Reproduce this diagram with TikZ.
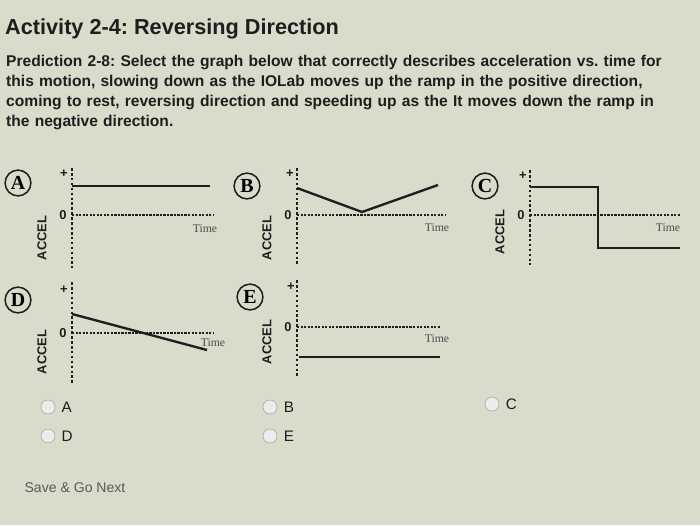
\documentclass[tikz,border=0pt]{standalone}
\usepackage{fontspec}
\setmainfont{Liberation Sans}
\newfontfamily\serifface{Liberation Serif}
\usetikzlibrary{positioning}
\definecolor{screen}{HTML}{D9DCCB}
\definecolor{ink}{HTML}{1E1E1E}
\frenchspacing

\begin{document}
\begin{tikzpicture}[x=0.03cm, y=-0.03cm]
    \tikzstyle{axis} = [ink, line width=2.2pt, dotted]
    \tikzstyle{zeroline} = [ink, line width=2pt, densely dotted]
    \tikzstyle{curve} = [ink, line width=2pt]
    \tikzstyle{badge} = [circle, draw=ink, line width=1.3pt, inner sep=0.5pt, minimum size=22pt, font=\serifface\bfseries\fontsize{17}{17}\selectfont]
    \tikzstyle{accel} = [rotate=90, font=\bfseries\fontsize{11}{11}\selectfont, text=ink]
    \tikzstyle{timelabel} = [font=\serifface\fontsize{10}{10}\selectfont, text=ink!80]
    \tikzstyle{tick} = [font=\bfseries\fontsize{11}{11}\selectfont, text=ink]
    \tikzstyle{radio} = [circle, draw=gray!80, fill=gray!15, minimum size=12pt, inner sep=0pt]
    \tikzstyle{choice} = [font=\fontsize{13}{13}\selectfont, text=ink]

    \fill[screen] (0,0) rectangle (700,525);
    \useasboundingbox (0,0) rectangle (700,525);

    \node (title) [anchor=west, font=\bfseries\fontsize{18.5}{18.5}\selectfont, text=ink, inner sep=0pt] at (5,29) {Activity 2-4: Reversing Direction};
    \node (prompt) [anchor=north west, align=left, font=\bfseries\fontsize{13.3}{17.2}\selectfont, text=ink, text width=22cm, inner sep=0pt] at (6,55)
        {Prediction 2-8: Select the graph below that correctly describes acceleration vs. time for\\
         this motion, slowing down as the IOLab moves up the ramp in the positive direction,\\
         coming to rest, reversing direction and speeding up as the It moves down the ramp in\\
         the negative direction.};

    % graph A
    \node (bA) [badge] at (18,183) {A};
    \draw[axis] (72,168) -- (72,268);
    \draw[zeroline] (72,215) -- (213,215);
    \node (pA) [tick] at (64,174) {+};
    \node (zA) [tick] at (63,215) {0};
    \node (aA) [accel] at (42,238) {ACCEL};
    \node (tA) [timelabel] at (205,229) {Time};
    \coordinate (A1) at (72,186);
    \coordinate (A2) at (210,186);
    \draw[curve] (A1) -- (A2);

    % graph B
    \node (bB) [badge] at (247,186) {B};
    \draw[axis] (297,168) -- (297,265);
    \draw[zeroline] (297,215) -- (445,215);
    \node (pB) [tick] at (290,174) {+};
    \node (zB) [tick] at (288,215) {0};
    \node (aB) [accel] at (267,238) {ACCEL};
    \node (tB) [timelabel] at (437,228) {Time};
    \coordinate (B1) at (297,188);
    \coordinate (B2) at (362,212);
    \coordinate (B3) at (438,185);
    \draw[curve] (B1) -- (B2) -- (B3);

    % graph C
    \node (bC) [badge] at (485,186) {C};
    \draw[axis] (530,170) -- (530,265);
    \draw[zeroline] (530,215) -- (680,215);
    \node (pC) [tick] at (523,176) {+};
    \node (zC) [tick] at (521,215) {0};
    \node (aC) [accel] at (500,232) {ACCEL};
    \node (tC) [timelabel] at (668,228) {Time};
    \coordinate (C1) at (530,187);
    \coordinate (C2) at (598,187);
    \coordinate (C3) at (598,248);
    \coordinate (C4) at (680,248);
    \draw[curve] (C1) -- (C2) -- (C3) -- (C4);

    % graph D
    \node (bD) [badge] at (18,300) {D};
    \draw[axis] (72,282) -- (72,385);
    \draw[zeroline] (72,333) -- (213,333);
    \node (pD) [tick] at (64,290) {+};
    \node (zD) [tick] at (63,333) {0};
    \node (aD) [accel] at (42,352) {ACCEL};
    \node (tD) [timelabel] at (213,343) {Time};
    \coordinate (D1) at (72,314);
    \coordinate (D2) at (207,350);
    \draw[curve] (D1) -- (D2);

    % graph E
    \node (bE) [badge] at (250,297) {E};
    \draw[axis] (297,280) -- (297,377);
    \draw[zeroline] (297,327) -- (440,327);
    \node (pE) [tick] at (291,287) {+};
    \node (zE) [tick] at (288,327) {0};
    \node (aE) [accel] at (267,342) {ACCEL};
    \node (tE) [timelabel] at (437,339) {Time};
    \coordinate (E1) at (299,357);
    \coordinate (E2) at (440,357);
    \draw[curve] (E1) -- (E2);

    % answer choices
    \node (rA) [radio] at (48,407) {};
    \node (lA) [choice, right=2pt of rA] {A};
    \node (rD) [radio] at (48,436) {};
    \node (lD) [choice, right=2pt of rD] {D};
    \node (rB) [radio] at (270,407) {};
    \node (lB) [choice, right=2pt of rB] {B};
    \node (rE) [radio] at (270,436) {};
    \node (lE) [choice, right=2pt of rE] {E};
    \node (rC) [radio] at (492,404) {};
    \node (lC) [choice, right=2pt of rC] {C};

    \node (save) [font=\fontsize{12}{12}\selectfont, text=gray!70!black] at (75,488) {Save \& Go Next};
\end{tikzpicture}
\end{document}
